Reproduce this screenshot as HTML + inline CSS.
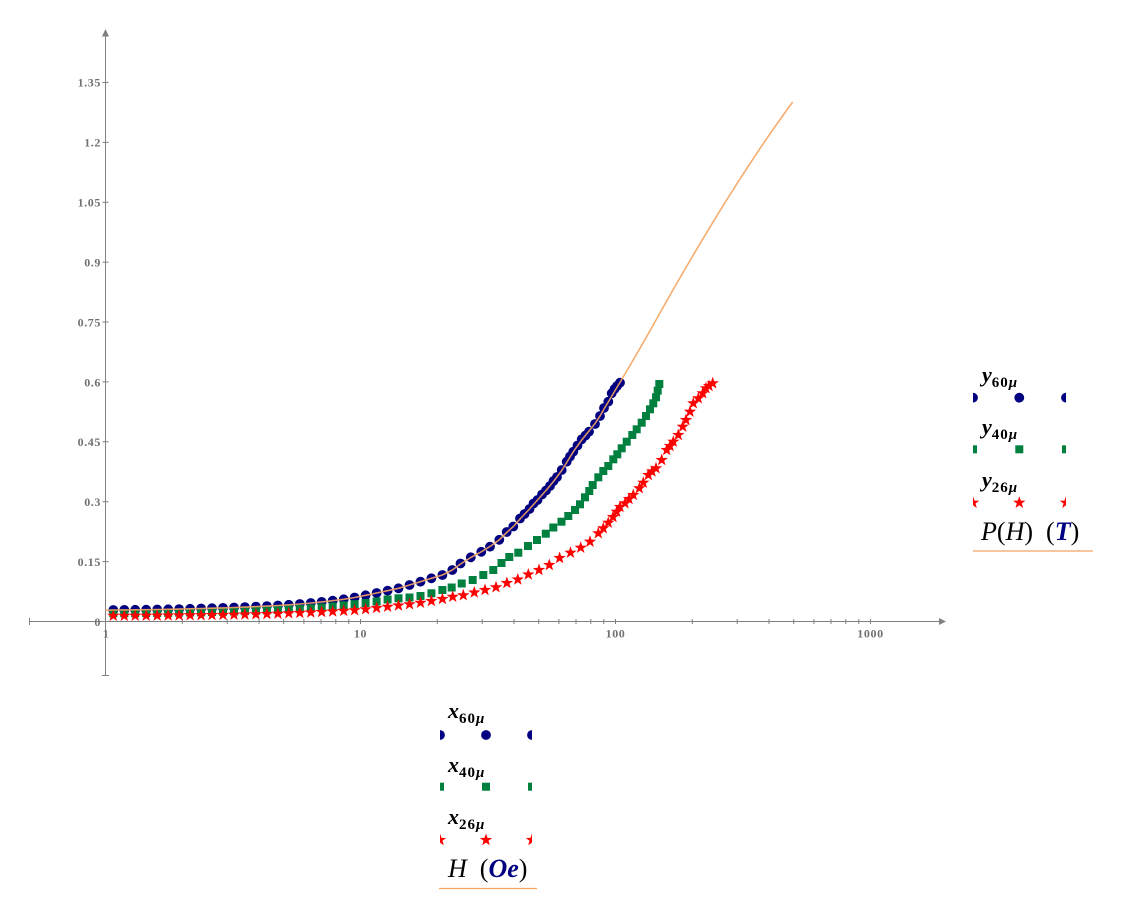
<!DOCTYPE html>
<html><head><meta charset="utf-8"><style>
html,body{margin:0;padding:0;background:#fff;}
svg{display:block;}
</style></head><body>
<svg width="1121" height="908" viewBox="0 0 1121 908" xmlns="http://www.w3.org/2000/svg">
<defs>
<marker id="mc" markerUnits="userSpaceOnUse" markerWidth="1" markerHeight="1" refX="0" refY="0" overflow="visible"><circle r="4.9" fill="#000080"/></marker>
<marker id="ms" markerUnits="userSpaceOnUse" markerWidth="1" markerHeight="1" refX="0" refY="0" overflow="visible"><rect x="-4" y="-4" width="8" height="8" fill="#00803f"/></marker>
<marker id="mt" markerUnits="userSpaceOnUse" markerWidth="1" markerHeight="1" refX="0" refY="0" overflow="visible"><path d="M0,-6.5 L1.53,-2.1 L6.18,-2.01 L2.47,0.8 L3.82,5.26 L0,2.6 L-3.82,5.26 L-2.47,0.8 L-6.18,-2.01 L-1.53,-2.1 Z" fill="#ff0000"/></marker>
<path id="star" d="M0,-6.5 L1.53,-2.1 L6.18,-2.01 L2.47,0.8 L3.82,5.26 L0,2.6 L-3.82,5.26 L-2.47,0.8 L-6.18,-2.01 L-1.53,-2.1 Z" fill="#ff0000"/>
<clipPath id="cr"><rect x="973" y="380" width="93" height="135"/></clipPath>
<clipPath id="cb"><rect x="440" y="720" width="92" height="135"/></clipPath>
</defs>
<rect width="1121" height="908" fill="#fff"/>

<!-- axes -->
<g stroke="#808080" stroke-width="1" fill="none">
<line x1="105.5" y1="36" x2="105.5" y2="675.5"/>
<line x1="102" y1="675.5" x2="109" y2="675.5"/>
<line x1="29" y1="621.5" x2="940" y2="621.5"/>
<line x1="29.5" y1="618" x2="29.5" y2="625"/>
<path d="M102.5,561.6h6M102.5,501.7h6M102.5,441.8h6M102.5,381.9h6M102.5,322h6M102.5,262.1h6M102.5,202.2h6M102.5,142.4h6M102.5,82.5h6"/>
<path d="M182.3,619v5M227.2,619v5M259,619v5M283.7,619v5M303.9,619v5M321,619v5M335.8,619v5M348.8,619v5M360.5,619v5M437.3,619v5M482.2,619v5M514,619v5M538.7,619v5M558.9,619v5M576,619v5M590.8,619v5M603.8,619v5M615.5,619v5M692.3,619v5M737.2,619v5M769,619v5M793.7,619v5M813.9,619v5M831,619v5M845.8,619v5M858.8,619v5M870.5,619v5"/>
</g>
<polygon points="105.5,29 102,36.5 109,36.5" fill="#808080"/>
<polygon points="946,621.5 939,618 939,625" fill="#808080"/>

<g font-family="'Liberation Serif', serif" font-weight="bold" font-size="12" letter-spacing="0.6" fill="#707070" text-anchor="end">
<text x="101" y="86.5">1.35</text>
<text x="101" y="146.5">1.2</text>
<text x="101" y="206.5">1.05</text>
<text x="101" y="266.5">0.9</text>
<text x="101" y="326.5">0.75</text>
<text x="101" y="386.5">0.6</text>
<text x="101" y="446">0.45</text>
<text x="101" y="506">0.3</text>
<text x="101" y="566">0.15</text>
<text x="101" y="626">0</text>
</g>
<g font-family="'Liberation Serif', serif" font-weight="bold" font-size="12" letter-spacing="0.6" fill="#707070" text-anchor="middle">
<text x="106" y="637.5">1</text>
<text x="360.5" y="637.5">10</text>
<text x="615.5" y="637.5">100</text>
<text x="870.5" y="637.5">1000</text>
</g>

<!-- circles 60u -->
<path fill="none" stroke="none" marker-start="url(#mc)" marker-mid="url(#mc)" marker-end="url(#mc)" d="M113.3,610 L124.3,609.9 L135.2,609.8 L146.2,609.7 L157.2,609.5 L168.2,609.3 L179.1,609.1 L190.1,608.8 L201.1,608.5 L212,608.2 L223,607.9 L234,607.5 L244.9,607.1 L255.9,606.6 L266.9,606.1 L277.9,605.5 L288.8,604.8 L299.8,604 L310.8,603 L321.7,601.9 L332.7,600.7 L343.7,599.3 L354.6,597.5 L365.6,595.3 L376.6,593 L387.6,590.7 L398.5,588.3 L409.5,585 L420.5,581.7 L431.4,578.3 L442.4,575 L452.3,570 L460.5,563.5 L470.8,557.3 L481.3,551.8 L490,546.7 L499.3,539.8 L506.7,532 L513.3,526.5 L520,518.5 L524.5,514 L529.5,509 L533.5,503.5 L537.5,500 L542,494.5 L546,490.5 L550,486 L553.5,481 L557,477 L561.7,470 L566.7,461.7 L570,456.5 L573.3,451.7 L577.5,445.5 L581.7,439.3 L585.5,435.5 L589,431.7 L595,424 L600,416 L604,408 L608.3,401.7 L611.7,393.3 L614.5,389 L617,386 L620,382.7"/>

<!-- squares 40u -->
<path fill="none" stroke="none" marker-start="url(#ms)" marker-mid="url(#ms)" marker-end="url(#ms)" d="M113.3,613.3 L124.3,613.3 L135.2,613.2 L146.2,613.1 L157.2,613 L168.2,612.9 L179.1,612.7 L190.1,612.5 L201.1,612.3 L212,612.1 L223,611.8 L234,611.5 L244.9,611.2 L255.9,610.8 L266.9,610.4 L277.9,610 L288.8,609.5 L299.8,609 L310.8,608.3 L321.7,607.5 L332.7,606.5 L343.7,605.3 L354.6,604.2 L365.6,603 L376.6,601.5 L387.6,599.5 L398.5,598.3 L409.5,597.5 L420.5,596 L431.4,593.3 L442.4,590 L451.7,587.5 L461.7,583.5 L472.7,580 L483.3,575 L493.3,570 L501.5,563 L509.3,557 L518.3,552.7 L528,546 L537,540 L545.8,533.7 L553.3,527.5 L561.5,521.7 L568.3,516 L575,510 L580,504.3 L585,497.3 L589.3,491 L592.7,485 L598.3,477.3 L603.3,471 L608.3,466 L613.3,459.3 L617.3,454.3 L621.7,448.3 L626.7,441.7 L632.3,435 L636.7,429.3 L641.7,422.7 L646,416 L650,409.3 L653.3,403.3 L656,397.3 L657.7,390.7 L659.3,384"/>

<!-- stars 26u -->
<path fill="none" stroke="none" marker-start="url(#mt)" marker-mid="url(#mt)" marker-end="url(#mt)" d="M113.3,615.8 L124.3,615.8 L135.2,615.7 L146.2,615.7 L157.2,615.6 L168.2,615.5 L179.1,615.4 L190.1,615.3 L201.1,615.2 L212,615 L223,614.9 L234,614.7 L244.9,614.5 L255.9,614.3 L266.9,614 L277.9,613.7 L288.8,613.3 L299.8,612.9 L310.8,612.5 L321.7,612 L332.7,611.5 L343.7,610.9 L354.6,610.2 L365.6,609.3 L376.6,608 L387.6,606.8 L398.5,605.5 L409.5,604.3 L420.5,602.8 L431.4,601 L442.4,599 L452.7,596.8 L463.3,595.3 L474.3,592.5 L485,590 L496,587.3 L506.9,583 L517.8,579.5 L528.3,574.5 L539,570 L549.3,565 L559.6,558 L570.5,552.7 L580.7,547.7 L590,541.7 L598.3,533.3 L603.3,528.3 L608.3,522.7 L613,517 L616.7,511.7 L620,507 L625,503.3 L629,499 L633.3,495 L639.3,488.3 L643.3,482.7 L648.3,475 L652,471.5 L656,468.3 L661.7,460 L666.7,450 L670,446 L673.3,441.7 L678.3,435 L682.7,426.7 L686,420 L690,411.7 L693.3,403.3 L698.3,398.3 L702.7,393.3 L706,388.3 L709,386 L712.7,383.3"/>

<!-- P(H) orange -->
<path fill="none" stroke="#f4a460" stroke-width="1.6" stroke-opacity="0.9" stroke-linejoin="round" d="M105.5,610.3 L113.3,610 L124.3,609.9 L135.2,609.8 L146.2,609.7 L157.2,609.5 L168.2,609.3 L179.1,609.1 L190.1,608.8 L201.1,608.5 L212,608.2 L223,607.9 L234,607.5 L244.9,607.1 L255.9,606.6 L266.9,606.1 L277.9,605.5 L288.8,604.8 L299.8,604 L310.8,603 L321.7,601.9 L332.7,600.7 L343.7,599.3 L354.6,597.5 L365.6,595.3 L376.6,593 L387.6,590.7 L398.5,588.3 L409.5,585 L420.5,581.7 L431.4,578.3 L442.4,575 L452.3,570 L460.5,564 L470.8,557.5 L481.3,551.8 L490,546.5 L499.3,539.8 L506.7,532.5 L513.3,526.5 L520,519 L529.5,509 L537.5,500 L546,490.5 L553.5,481.5 L561.7,470.5 L566.7,462.5 L573.3,451.7 L581.7,440 L589,431 L595,423.5 L600,416 L604,409 L608.3,402 L614.5,391.5 L621.7,379.5 L631.7,362.5 L641,346.5 L650.7,329.5 C700.7,239.5 747.7,163 792.7,102"/>

<!-- right legend -->
<g font-family="'Liberation Serif', serif" fill="#000">
<text x="982" y="382" font-size="22" font-style="italic" font-weight="bold">y<tspan font-size="15" dy="5" font-style="normal" letter-spacing="1">60</tspan><tspan font-size="15">μ</tspan></text>
<text x="982" y="434" font-size="22" font-style="italic" font-weight="bold">y<tspan font-size="15" dy="5" font-style="normal" letter-spacing="1">40</tspan><tspan font-size="15">μ</tspan></text>
<text x="982" y="487" font-size="22" font-style="italic" font-weight="bold">y<tspan font-size="15" dy="5" font-style="normal" letter-spacing="1">26</tspan><tspan font-size="15">μ</tspan></text>
<text x="981" y="540" font-size="26"><tspan font-style="italic">P</tspan>(<tspan font-style="italic">H</tspan>)<tspan dx="13">(</tspan><tspan font-style="italic" font-weight="bold" fill="#000080">T</tspan>)</text>
</g>
<g clip-path="url(#cr)">
<circle cx="973" cy="397.7" r="4.9" fill="#000080"/>
<circle cx="1019.3" cy="397.7" r="4.9" fill="#000080"/>
<circle cx="1066" cy="397.7" r="4.9" fill="#000080"/>
<rect x="969" y="445.3" width="8" height="8" fill="#00803f"/>
<rect x="1015.3" y="445.3" width="8" height="8" fill="#00803f"/>
<rect x="1062" y="445.3" width="8" height="8" fill="#00803f"/>
<use href="#star" x="973" y="502.7"/>
<use href="#star" x="1019.3" y="502.7"/>
<use href="#star" x="1066" y="502.7"/>
</g>
<line x1="973" y1="551" x2="1093" y2="551" stroke="#f4a460" stroke-width="1.2"/>

<!-- bottom legend -->
<g font-family="'Liberation Serif', serif" fill="#000">
<text x="448" y="718" font-size="22" font-style="italic" font-weight="bold">x<tspan font-size="15" dy="5" font-style="normal" letter-spacing="1">60</tspan><tspan font-size="15">μ</tspan></text>
<text x="448" y="772" font-size="22" font-style="italic" font-weight="bold">x<tspan font-size="15" dy="5" font-style="normal" letter-spacing="1">40</tspan><tspan font-size="15">μ</tspan></text>
<text x="448" y="824" font-size="22" font-style="italic" font-weight="bold">x<tspan font-size="15" dy="5" font-style="normal" letter-spacing="1">26</tspan><tspan font-size="15">μ</tspan></text>
<text x="448" y="877" font-size="26"><tspan font-style="italic">H</tspan><tspan dx="13">(</tspan><tspan font-style="italic" font-weight="bold" fill="#000080">Oe</tspan>)</text>
</g>
<g clip-path="url(#cb)">
<circle cx="440" cy="735" r="4.9" fill="#000080"/>
<circle cx="486" cy="735" r="4.9" fill="#000080"/>
<circle cx="532" cy="735" r="4.9" fill="#000080"/>
<rect x="436" y="782.7" width="8" height="8" fill="#00803f"/>
<rect x="482" y="782.7" width="8" height="8" fill="#00803f"/>
<rect x="528" y="782.7" width="8" height="8" fill="#00803f"/>
<use href="#star" x="440" y="840"/>
<use href="#star" x="486" y="840"/>
<use href="#star" x="532" y="840"/>
</g>
<line x1="439" y1="888.5" x2="537" y2="888.5" stroke="#f4a460" stroke-width="1.2"/>
</svg>
</body></html>
